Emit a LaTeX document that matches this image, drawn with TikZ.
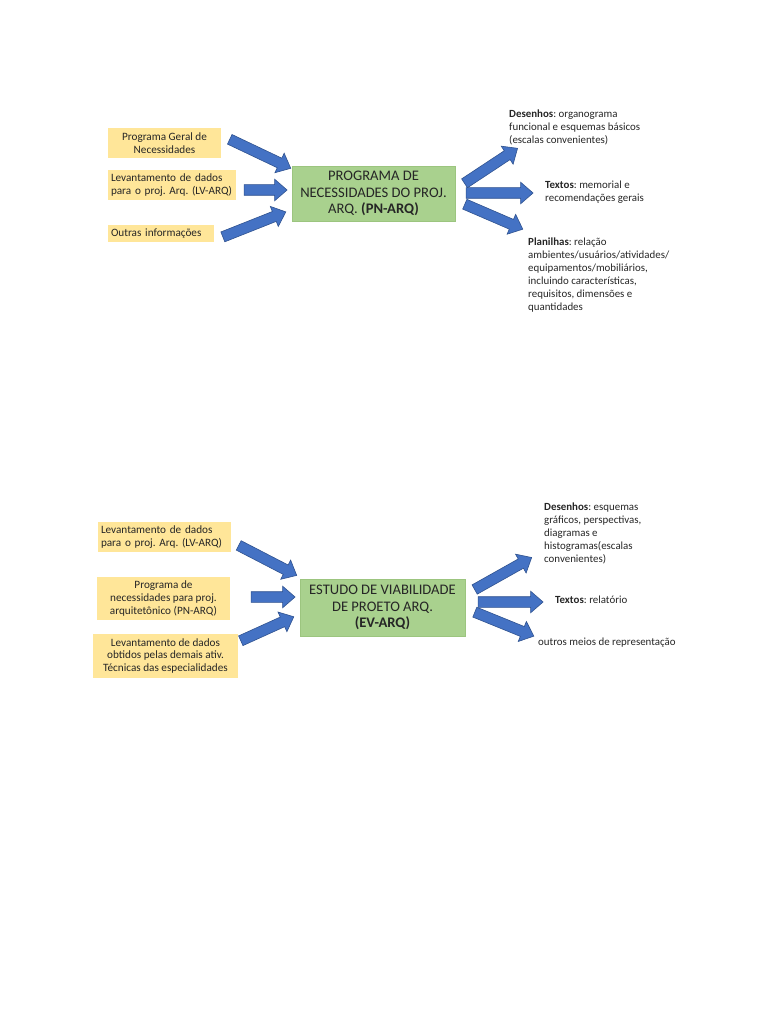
\documentclass[tikz,border=0pt]{standalone}
\usepackage{fontspec}
\setmainfont{Carlito}
\usetikzlibrary{shapes.arrows,calc}
\definecolor{ybox}{HTML}{FFE699}
\definecolor{gbox}{HTML}{A9D18E}
\definecolor{gedge}{HTML}{9CC57F}
\definecolor{bfill}{HTML}{4472C4}
\definecolor{bedge}{HTML}{2F528F}
\definecolor{txt}{HTML}{262626}
\tikzset{
  ynote/.style={fill=ybox, text=txt, font=\fontsize{11.2}{12.8}\selectfont, inner sep=1pt},
  gmain/.style={fill=gbox, draw=gedge, text=txt, font=\fontsize{14.6}{16.6}\selectfont, align=center, inner sep=0pt},
  label/.style={anchor=north west, inner sep=0pt, text=txt, font=\fontsize{10.9}{13}\selectfont, align=left},
  barrowstyle/.style={single arrow, fill=bfill, draw=bedge, line width=0.6pt, inner sep=5pt,
     single arrow head extend=5.5pt, single arrow tip angle=82, anchor=center, outer sep=0pt}
}
\newcommand\barrow[2]{\path let \p1=(#1), \p2=(#2), \n1={atan2(\y2-\y1,\x2-\x1)}, \n2={veclen(\x2-\x1,\y2-\y1)} in node[barrowstyle, rotate=\n1, minimum height=\n2] at ($(#1)!0.5!(#2)$) {};}
\begin{document}
\frenchspacing
\begin{tikzpicture}[x=1pt,y=-1pt]
\useasboundingbox (0,0) rectangle (768,1024);
\fill[white] (0,0) rectangle (768,1024);

% ---------- top diagram ----------
\node[ynote, minimum width=113pt, minimum height=30pt, align=center] (t1) at (164.5,143) {Programa Geral de\\Necessidades};
\node[ynote, minimum width=128pt, minimum height=30pt, align=left, text width=122pt] (t2) at (172,185) {Levantamento de dados\\para o proj. Arq. (LV-ARQ)};
\node[ynote, minimum width=106pt, minimum height=17pt, align=left, text width=100pt] (t3) at (161,233.5) {Outras informações};
\node[gmain, minimum width=163pt, minimum height=55pt] (g1) at (373.5,193.5) {PROGRAMA DE\\NECESSIDADES DO PROJ.\\ARQ. \textbf{(PN-ARQ)}};

\node[label] (d1) at (509,110) {\textbf{Desenhos}: organograma\\funcional e esquemas básicos\\(escalas convenientes)};
\node[label] (x1) at (545,181) {\textbf{Textos}: memorial e\\recomendações gerais};
\node[label] (p1) at (528,238) {\textbf{Planilhas}: relação\\ambientes/usuários/atividades/\\equipamentos/mobiliários,\\incluindo características,\\requisitos, dimensões e\\quantidades};

\coordinate (a1s) at (227,138); \coordinate (a1e) at (288,167);
\coordinate (a2s) at (241,190); \coordinate (a2e) at (284,190);
\coordinate (a3s) at (220,238); \coordinate (a3e) at (283,213);
\coordinate (a4s) at (462,185); \coordinate (a4e) at (515,150);
\coordinate (a5s) at (463,193); \coordinate (a5e) at (530,193);
\coordinate (a6s) at (462,203); \coordinate (a6e) at (520,228);
\barrow{a1s}{a1e}
\barrow{a2s}{a2e}
\barrow{a3s}{a3e}
\barrow{a4s}{a4e}
\barrow{a5s}{a5e}
\barrow{a6s}{a6e}

% ---------- bottom diagram ----------
\node[ynote, minimum width=133pt, minimum height=30pt, align=left, text width=127pt] (b1) at (164.5,537) {Levantamento de dados\\para o proj. Arq. (LV-ARQ)};
\node[ynote, minimum width=133pt, minimum height=43pt, align=center] (b2) at (163.5,598.5) {Programa de\\necessidades para proj.\\arquitetônico (PN-ARQ)};
\node[ynote, minimum width=145pt, minimum height=44pt, align=center] (b3) at (165.5,656) {Levantamento de dados\\obtidos pelas demais ativ.\\Técnicas das especialidades};
\node[gmain, minimum width=165pt, minimum height=57pt] (g2) at (382.5,607.5) {ESTUDO DE VIABILIDADE\\DE PROETO ARQ.\\\textbf{(EV-ARQ)}};

\node[label] (d2) at (544,503) {\textbf{Desenhos}: esquemas\\gráficos, perspectivas,\\diagramas e\\histogramas(escalas\\convenientes)};
\node[label] (x2) at (555,596) {\textbf{Textos}: relatório};
\node[label] (o2) at (538,638) {outros meios de representação};

\coordinate (c1s) at (236,544); \coordinate (c1e) at (294,574);
\coordinate (c2s) at (248,597); \coordinate (c2e) at (292,597);
\coordinate (c3s) at (238,642); \coordinate (c3e) at (291,618);
\coordinate (c4s) at (472,591); \coordinate (c4e) at (529,559);
\coordinate (c5s) at (475,602); \coordinate (c5e) at (540,602);
\coordinate (c6s) at (472,611); \coordinate (c6e) at (531,635);
\barrow{c1s}{c1e}
\barrow{c2s}{c2e}
\barrow{c3s}{c3e}
\barrow{c4s}{c4e}
\barrow{c5s}{c5e}
\barrow{c6s}{c6e}
\end{tikzpicture}
\end{document}
